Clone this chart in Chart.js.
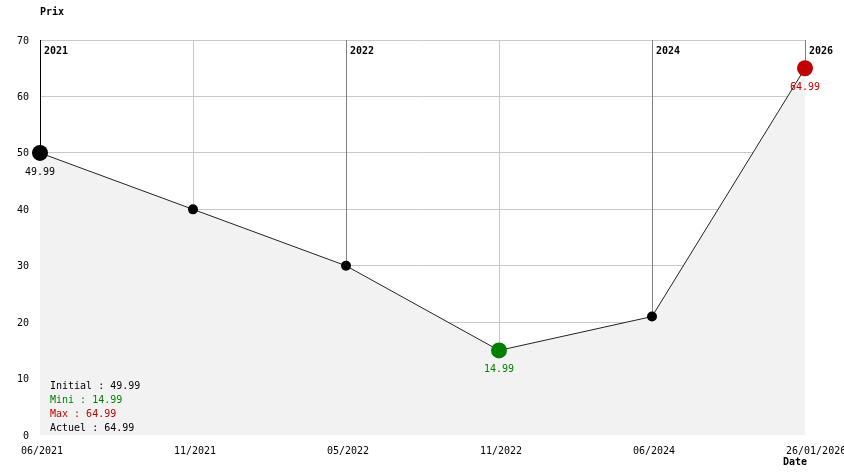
<!DOCTYPE html>
<html>
<head>
<meta charset="utf-8">
<script src="https://cdn.jsdelivr.net/npm/chart.js@4"></script>
<style>
  html, body { margin: 0; padding: 0; background: #fff; }
  canvas { display: block; }
</style>
</head>
<body>
<canvas id="c" width="844" height="474"></canvas>
<script>
// Price history data
const dates = ["06/2021", "11/2021", "05/2022", "11/2022", "06/2024", "26/01/2026"];
const prices = [49.99, 39.99, 29.99, 14.99, 20.99, 64.99];
const yearMarks = [
  { index: 0, label: "2021" },
  { index: 2, label: "2022" },
  { index: 4, label: "2024" },
  { index: 5, label: "2026" }
];
const yTicks = [0, 10, 20, 30, 40, 50, 60, 70];
const summary = [
  { text: "Initial : 49.99", color: "#000000" },
  { text: "Mini : 14.99", color: "#008000" },
  { text: "Max : 64.99", color: "#c00000" },
  { text: "Actuel : 64.99", color: "#000000" }
];

const FONT = "10px 'DejaVu Sans Mono', monospace";
const BOLD = "bold 10px 'DejaVu Sans Mono', monospace";
const GRID = "#c8c8c8";

const minIdx = prices.indexOf(Math.min(...prices));
const maxIdx = prices.indexOf(Math.max(...prices));
const lastIdx = prices.length - 1;

const pointColors = prices.map((v, i) => {
  if (i === maxIdx) return "#c00000";
  if (i === minIdx) return "#008000";
  return "#000000";
});
const pointSizes = prices.map((v, i) =>
  (i === 0 || i === minIdx || i === maxIdx || i === lastIdx) ? 8 : 5
);

// year lines, drawn before the line so points sit on top
const yearLines = {
  id: "yearLines",
  beforeDatasetsDraw(chart) {
    const { ctx, scales: { x, y }, chartArea } = chart;
    ctx.save();
    ctx.lineWidth = 1;
    yearMarks.forEach((m, k) => {
      const px = Math.round(x.getPixelForValue(m.index)) + 0.5;
      const py = y.getPixelForValue(prices[m.index]);
      ctx.strokeStyle = k === 0 ? "#000000" : "#808080";
      ctx.beginPath();
      ctx.moveTo(px, chartArea.top);
      ctx.lineTo(px, py);
      ctx.stroke();
    });
    ctx.restore();
  }
};

// texts: axis labels, year labels, point values, summary box
const texts = {
  id: "texts",
  afterDraw(chart) {
    const { ctx, scales: { x, y }, chartArea } = chart;
    ctx.save();
    ctx.textBaseline = "middle";

    ctx.font = FONT;
    ctx.fillStyle = "#000";
    ctx.textAlign = "right";
    yTicks.forEach(t => ctx.fillText(String(t), 29, y.getPixelForValue(t) + 1));

    ctx.textAlign = "left";
    dates.forEach((d, i) => ctx.fillText(d, x.getPixelForValue(i) - 19, 451));

    ctx.font = BOLD;
    ctx.fillText("Prix", 40, 12);
    ctx.fillText("Date", 783, 462);
    yearMarks.forEach(m => ctx.fillText(m.label, x.getPixelForValue(m.index) + 4, chartArea.top + 11));

    ctx.font = FONT;
    ctx.textAlign = "center";
    [0, minIdx, maxIdx].forEach(i => {
      ctx.fillStyle = pointColors[i];
      ctx.fillText(prices[i].toFixed(2), x.getPixelForValue(i), y.getPixelForValue(prices[i]) + 19);
    });

    ctx.textAlign = "left";
    summary.forEach((s, k) => {
      ctx.fillStyle = s.color;
      ctx.fillText(s.text, 50, 386 + k * 14);
    });
    ctx.restore();
  }
};

new Chart(document.getElementById("c"), {
  type: "line",
  data: {
    labels: dates,
    datasets: [{
      data: prices,
      borderColor: "#222222",
      borderWidth: 1,
      backgroundColor: "#f2f2f2",
      fill: "origin",
      tension: 0,
      pointRadius: pointSizes,
      pointBackgroundColor: pointColors,
      pointBorderWidth: 0,
      pointHoverRadius: pointSizes
    }]
  },
  options: {
    responsive: false,
    animation: false,
    layout: { padding: { left: 40, right: 39, top: 40, bottom: 39 } },
    plugins: { legend: { display: false }, tooltip: { enabled: false } },
    scales: {
      x: {
        ticks: { display: false },
        grid: {
          color: (c) => (c.index === 0 || c.index === lastIdx) ? "rgba(0,0,0,0)" : GRID,
          drawTicks: false
        },
        border: { display: false }
      },
      y: {
        min: 0,
        max: 70,
        ticks: { display: false, stepSize: 10 },
        grid: {
          color: (c) => c.tick && c.tick.value === 0 ? "rgba(0,0,0,0)" : GRID,
          drawTicks: false
        },
        border: { display: false }
      }
    }
  },
  plugins: [yearLines, texts]
});
</script>
</body>
</html>
